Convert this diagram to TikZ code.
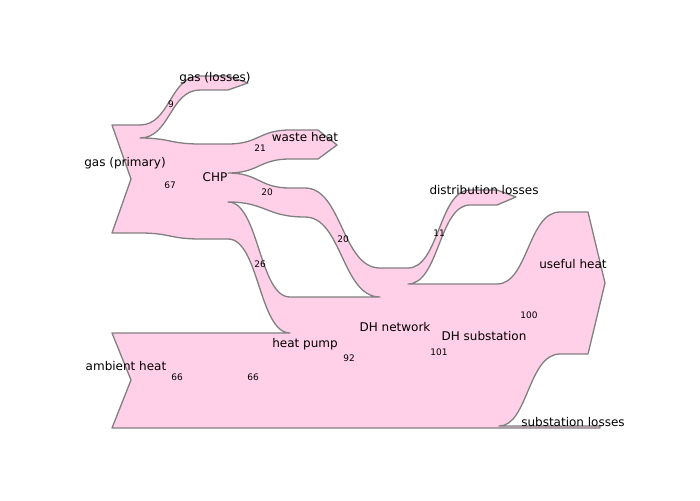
\documentclass[tikz,border=0pt]{standalone}
\usepackage{fontspec}
\setmainfont{DejaVu Sans}
\definecolor{flow}{RGB}{255,208,232}
\definecolor{edge}{RGB}{128,128,128}
\begin{document}
\begin{tikzpicture}[x=1pt,y=-1pt,
  band/.style={fill=flow,draw=edge,line width=1.3pt,line join=round,even odd rule},
  lab/.style={font=\fontsize{12}{14}\selectfont,inner sep=0pt},
  num/.style={font=\fontsize{9}{11}\selectfont,inner sep=0pt}]
\useasboundingbox (0,0) rectangle (700,500);
\path[band]
 (112,125) -- (140,125) .. controls (170,125) and (170,76) .. (200,76) -- (228,76) -- (248,83) -- (228,90) -- (200,90)
 .. controls (170,90) and (170,138) .. (140,138) .. controls (170,138) and (170,144) .. (200,144) -- (228,144)
 .. controls (259,144) and (259,130) .. (290,130) -- (318,130) -- (337,145) -- (318,159) -- (290,159)
 .. controls (259,159) and (259,173) .. (228,173) .. controls (259,173) and (259,188) .. (290,188) -- (305,188)
 .. controls (342,188) and (342,268) .. (380,268) -- (408,268) .. controls (439,268) and (439,190) .. (470,190)
 -- (497,190) -- (516,197) -- (497,205) -- (470,205) .. controls (439,205) and (439,284) .. (408,284)
 -- (497,284) .. controls (528,284) and (528,212) .. (560,212) -- (588,212) -- (605,283) -- (588,354) -- (560,354)
 .. controls (528,354) and (528,426) .. (499,426) -- (600,426) -- (600,428) -- (112,428) -- (131,380) -- (112,333)
 -- (290,333) .. controls (259,333) and (259,239) .. (228,239) -- (200,239) .. controls (170,239) and (170,233) .. (140,233)
 -- (112,233) -- (131,179) -- cycle
 (228,202) .. controls (266,202) and (266,217) .. (305,217) .. controls (342,217) and (342,297) .. (380,297)
 -- (290,297) .. controls (259,297) and (259,202) .. (228,202) -- cycle;
\node[lab] (gl) at (215,78) {gas (losses)};
\node[lab] (gp) at (125,163) {gas (primary)};
\node[lab] (chp) at (215,177) {CHP};
\node[lab] (wh) at (305,137) {waste heat};
\node[lab] (dl) at (484,190) {distribution losses};
\node[lab] (uh) at (573,264) {useful heat};
\node[lab] (dhn) at (395,327) {DH network};
\node[lab] (dhs) at (484,336) {DH substation};
\node[lab] (hp) at (305,344) {heat pump};
\node[lab] (ah) at (126,366) {ambient heat};
\node[lab] (sl) at (573,422) {substation losses};
\node[num] (n1) at (171,104) {9};
\node[num] (n2) at (170,185) {67};
\node[num] (n3) at (260,148) {21};
\node[num] (n4) at (267,192) {20};
\node[num] (n5) at (343,239) {20};
\node[num] (n6) at (260,264) {26};
\node[num] (n7) at (439,233) {11};
\node[num] (n8) at (529,315) {100};
\node[num] (n9) at (439,352) {101};
\node[num] (n10) at (349,358) {92};
\node[num] (n11) at (177,377) {66};
\node[num] (n12) at (253,377) {66};
\end{tikzpicture}
\end{document}
